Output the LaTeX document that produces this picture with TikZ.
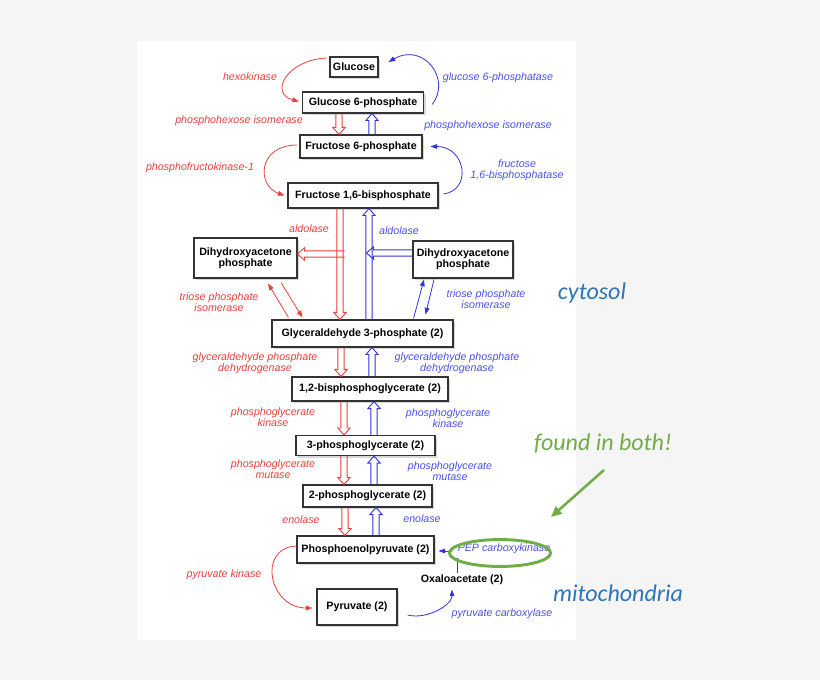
\documentclass[tikz,border=0pt]{standalone}
\usepackage{fontspec}
\usetikzlibrary{calc,arrows.meta,shadows}
\newfontfamily\hv{Liberation Sans}
\newfontfamily\cb{Carlito}
\definecolor{myred}{HTML}{E8403C}
\definecolor{myblue}{HTML}{4A52E6}
\definecolor{arblue}{HTML}{3434DD}
\definecolor{bgc}{HTML}{F5F5F5}
\definecolor{cblue}{HTML}{2E75B6}
\definecolor{mygreen}{HTML}{70AD47}
% open block arrow from #2 to #3 in colour #1
\newcommand\blk[3]{%
  \path (#2) coordinate (bA) (#3) coordinate (bB);
  \path ($(bB)!5.25pt!(bA)$) coordinate (bH);
  \draw[#1, line width=0.7pt, line join=miter]
    ($(bA)!2.4pt!-90:(bB)$) -- ($(bH)!2.4pt!-90:(bB)$) -- ($(bH)!4.6pt!-90:(bB)$)
    -- (bB) -- ($(bH)!4.6pt!90:(bB)$) -- ($(bH)!2.4pt!90:(bB)$) -- ($(bA)!2.4pt!90:(bB)$);
}
\begin{document}
\begin{tikzpicture}[x=0.75pt,y=-0.75pt,
  box/.style={draw=black!80, line width=0.8pt, fill=white,
    font=\hv\bfseries\fontsize{8}{8.5}\selectfont, align=center, inner sep=1pt,
    drop shadow={shadow xshift=1.6pt, shadow yshift=-1.6pt, fill=black!30}},
  wh/.style 2 args={minimum width=#1*0.75pt, minimum height=#2*0.75pt},
  rlab/.style={text=myred, font=\hv\itshape\fontsize{8}{8.3}\selectfont, align=center, inner sep=0pt},
  blab/.style={text=myblue, font=\hv\itshape\fontsize{8}{8.3}\selectfont, align=center, inner sep=0pt},
  rarr/.style={draw=myred, line width=0.6pt, -{Triangle[length=5pt,width=3.6pt]}},
  barr/.style={draw=arblue, line width=0.6pt, -{Triangle[length=5pt,width=3.6pt]}},
  big/.style={font=\cb\itshape\fontsize{18}{20}\selectfont, inner sep=0pt},
]
\useasboundingbox (0,0) rectangle (820,680);
\fill[bgc] (0,0) rectangle (820,680);
\fill[white] (137,41) rectangle (576,640);

% metabolites
\node[box, wh={48}{20}] (Gl) at (354,67) {Glucose};
\node[box, wh={121}{21}] (G6P) at (363,102.5) {Glucose 6-phosphate};
\node[box, wh={122}{23}] (F6P) at (361,146.5) {Fructose 6-phosphate};
\node[box, wh={150}{25}] (F16) at (363,195.5) {Fructose 1,6-bisphosphate};
\node[box, wh={103}{40}] (DL) at (245.5,258) {Dihydroxyacetone\\phosphate};
\node[box, wh={100}{37}] (DR) at (463,259.5) {Dihydroxyacetone\\phosphate};
\node[box, wh={181}{27}] (G3P) at (362.5,333.5) {Glyceraldehyde 3-phosphate (2)};
\node[box, wh={156}{24}] (BPG) at (370,389) {1,2-bisphosphoglycerate (2)};
\node[box, wh={139}{20}] (PGA) at (365.5,445.5) {3-phosphoglycerate (2)};
\node[box, wh={129}{22}] (PGB) at (367.5,496) {2-phosphoglycerate (2)};
\node[box, wh={137}{27}] (PEP) at (365.5,549.5) {Phosphoenolpyruvate (2)};
\node[box, wh={80}{36}] (Pyr) at (357,607) {Pyruvate (2)};
\node[font=\hv\bfseries\fontsize{8}{8.5}\selectfont, inner sep=1pt] (Oxa) at (462,580) {Oxaloacetate (2)};

% block arrows
\blk{myred}{$(G6P.south)+(339-363,0)$}{$(F6P.north)+(339-361,0)$}
\blk{arblue}{$(F6P.north)+(372-361,0)$}{$(G6P.south)+(372-363,0)$}
\blk{myred}{$(F16.south)+(340-363,0)$}{$(G3P.north)+(340-362.5,0)$}
\blk{arblue}{$(G3P.north)+(369-362.5,0)$}{$(F16.south)+(369-363,0)$}
\blk{myred}{$(DL.east)+(47,-4)$}{$(DL.east)+(0,-4)$}
\blk{arblue}{$(DR.west)+(0,-6.5)$}{$(DR.west)+(-46,-6.5)$}
\blk{myred}{$(G3P.south)+(341-362.5,0)$}{$(BPG.north)+(341-370,0)$}
\blk{arblue}{$(BPG.north)+(372-370,0)$}{$(G3P.south)+(372-362.5,0)$}
\blk{myred}{$(BPG.south)+(344-370,0)$}{$(PGA.north)+(344-365.5,0)$}
\blk{arblue}{$(PGA.north)+(374-365.5,0)$}{$(BPG.south)+(374-370,0)$}
\blk{myred}{$(PGA.south)+(344-365.5,0)$}{$(PGB.north)+(344-367.5,0)$}
\blk{arblue}{$(PGB.north)+(374-367.5,0)$}{$(PGA.south)+(374-365.5,0)$}
\blk{myred}{$(PGB.south)+(345-367.5,0)$}{$(PEP.north)+(345-365.5,0)$}
\blk{arblue}{$(PEP.north)+(376-365.5,0)$}{$(PGB.south)+(376-367.5,0)$}

% curved arrows
\draw[rarr] ($(Gl.west)+(-3,-9)$) .. controls +(-40,2) and +(-30,-8) .. ($(G6P.west)+(-3,-1)$);
\draw[barr] ($(G6P.east)+(8,2)$) .. controls +(20,-25) and +(35,-20) .. ($(Gl.east)+(10,-5)$);
\draw[rarr] ($(F6P.west)+(-2,-1.5)$) .. controls +(-40,0) and +(-28,-10) .. ($(F16.west)+(-3,0)$);
\draw[barr] ($(F16.east)+(5,-1.5)$) .. controls +(29,-4) and +(35,0) .. ($(F6P.east)+(8,0)$);
\draw[rarr] ($(PEP.west)+(0,-3.5)$) .. controls +(-40,2) and +(-43,0) .. ($(Pyr.west)+(-4,1)$);
\draw[barr] ($(Pyr.east)+(10,8)$) .. controls +(20,5) and +(0,15) .. ($(Oxa.south)+(-10,3)$);
\draw[barr] ($(Oxa.north)+(-5,0)$) |- ($(PEP.east)+(4,1.5)$);

% triose phosphate isomerase
\draw[rarr] ($(G3P.north west)+(17,-2)$) -- ($(DL.south)+(22.5,5)$);
\draw[rarr] ($(DL.south)+(35.5,4)$) -- ($(G3P.north west)+(31,-2)$);
\draw[barr] ($(G3P.north east)+(-40,-1)$) -- ($(DR.south)+(-39,1)$);
\draw[barr] ($(DR.south)+(-29,1)$) -- ($(G3P.north east)+(-28,-5)$);

% enzyme labels
\node[rlab] (lhex) at (250,77) {hexokinase};
\node[blab] (lg6p) at (498,78) {glucose 6-phosphatase};
\node[rlab] (lphi) at (239,121) {phosphohexose isomerase};
\node[blab] (lphi2) at (488,126) {phosphohexose isomerase};
\node[rlab] (lpfk) at (200,168) {phosphofructokinase-1};
\node[blab] (lfbp) at (517,170) {fructose\\1,6-bisphosphatase};
\node[rlab] (lald) at (309,229) {aldolase};
\node[blab] (lald2) at (399,231) {aldolase};
\node[rlab] (ltpi) at (219,302) {triose phosphate\\isomerase};
\node[blab] (ltpi2) at (486,299) {triose phosphate\\isomerase};
\node[rlab] (lgap) at (255,363) {glyceraldehyde phosphate\\dehydrogenase};
\node[blab] (lgap2) at (457,363) {glyceraldehyde phosphate\\dehydrogenase};
\node[rlab] (lpgk) at (273,417) {phosphoglycerate\\kinase};
\node[blab] (lpgk2) at (448,418) {phosphoglycerate\\kinase};
\node[rlab] (lpgm) at (273,469) {phosphoglycerate\\mutase};
\node[blab] (lpgm2) at (450,471) {phosphoglycerate\\mutase};
\node[rlab] (leno) at (301,520) {enolase};
\node[blab] (leno2) at (422,519) {enolase};
\node[rlab] (lpk) at (224,575) {pyruvate kinase};
\node[blab] (lpc) at (502,614) {pyruvate carboxylase};
\node[blab, fill=white, inner xsep=4pt, inner ysep=3pt] (lpck) at (504,549) {PEP carboxykinase};

% annotations
\draw[mygreen, line width=2.2pt] (500,553) ellipse [x radius=37.9pt, y radius=10.1pt];
\node[big, text=cblue] (cyt) at (592,293) {cytosol};
\node[big, text=cblue] (mito) at (618,593) {mitochondria};
\node[big, text=mygreen] (found) at (603,444) {found in both!};
\coordinate (gtip) at (551,517);
\draw[mygreen, line width=1.9pt, -{Triangle[length=8pt,width=7pt]}] ($(found.south)+(1,16)$) -- (gtip);
\end{tikzpicture}
\end{document}
